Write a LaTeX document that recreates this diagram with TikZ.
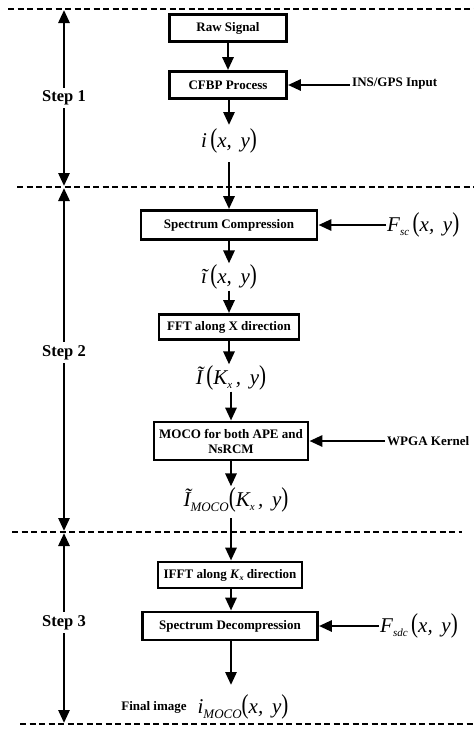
\documentclass[tikz,border=0pt]{standalone}
\usepackage{fontspec}
\setmainfont{Liberation Serif}
\usepackage{graphicx}
\usetikzlibrary{arrows.meta}
\newcommand\lpar{\scalebox{1}[1.3]{\upshape(}}
\newcommand\rpar{\scalebox{1}[1.3]{\upshape)}}
\newcommand\mexp[1]{{\fontsize{21}{25}\selectfont\itshape #1}}
\tikzset{
  x=1pt, y=-1pt,
  procbox/.style={draw, line width=2.8pt, font=\bfseries\fontsize{13}{15}\selectfont, inner sep=2pt, align=center},
  lbl/.style={font=\bfseries\fontsize{13}{15}\selectfont, inner sep=2pt},
  steplbl/.style={font=\bfseries\fontsize{16.5}{19}\selectfont, fill=white, inner sep=3pt},
  mathlbl/.style={inner sep=1pt},
  flow/.style={line width=2.8pt, -{Triangle[length=13pt,width=11pt]}},
  dbl/.style={line width=2.8pt, {Triangle[length=13pt,width=11pt]}-{Triangle[length=13pt,width=11pt]}},
  sep/.style={line width=2.2pt, dash pattern=on 6pt off 3.5pt},
}
\begin{document}
\begin{tikzpicture}
\useasboundingbox (0,0) rectangle (474,729);
% separators
\coordinate (d1a) at (8,9);   \coordinate (d1b) at (474,9);
\coordinate (d2a) at (17,187); \coordinate (d2b) at (474,187);
\coordinate (d3a) at (12,532); \coordinate (d3b) at (462,532);
\coordinate (d4a) at (20,724); \coordinate (d4b) at (474,724);
\draw[sep] (d1a) -- (d1b);
\draw[sep] (d2a) -- (d2b);
\draw[sep] (d3a) -- (d3b);
\draw[sep] (d4a) -- (d4b);
% step arrows
\coordinate (s1t) at (64,10); \coordinate (s1b) at (64,186);
\coordinate (s2t) at (64,188); \coordinate (s2b) at (64,531);
\coordinate (s3t) at (64,533); \coordinate (s3b) at (64,723);
\draw[dbl] (s1t) -- node[steplbl]{Step 1} (s1b);
\draw[dbl] (s2t) -- node[steplbl, pos=0.48]{Step 2} (s2b);
\draw[dbl] (s3t) -- node[steplbl, pos=0.47]{Step 3} (s3b);
% nodes
\node[procbox, minimum width=117pt, minimum height=27pt] (raw) at (228,28) {Raw Signal};
\node[procbox, minimum width=117pt, minimum height=27pt] (cfbp) at (228,85) {CFBP Process};
\node[lbl, anchor=west] (ins) at (350,84) {INS/GPS Input};
\node[mathlbl] (ixy) at (229,141) {\mexp{i\,\lpar x,\, y\rpar}};
\node[procbox, minimum width=176pt, minimum height=29pt] (sc) at (229,225) {Spectrum Compression};
\node[mathlbl, anchor=west] (fsc) at (386,225) {\mexp{F\raisebox{-4pt}{\fontsize{11}{13}\selectfont sc}\,\lpar x,\, y\rpar}};
\node[mathlbl] (it) at (229,277) {\mexp{\~{\i}\,\lpar x,\, y\rpar}};
\node[procbox, minimum width=140pt, minimum height=25pt] (fft) at (229,327) {FFT along X direction};
\node[mathlbl] (Ik) at (231,378) {\mexp{\~{I}\,\lpar K\raisebox{-4pt}{\fontsize{11}{13}\selectfont x}\,,\, y\rpar}};
\node[procbox, minimum width=154pt, minimum height=38pt, inner sep=1pt] (moco) at (231,441) {\baselineskip=16pt MOCO for both APE and\\NsRCM};
\node[lbl, anchor=west] (wpga) at (385,441) {WPGA Kernel};
\node[mathlbl] (Imoco) at (236,500) {\mexp{\~{I}\raisebox{-5pt}{\fontsize{13}{15}\selectfont MOCO}\lpar K\raisebox{-4pt}{\fontsize{11}{13}\selectfont x}\,,\, y\rpar}};
\node[procbox, minimum width=144pt, minimum height=26pt] (ifft) at (230,575) {IFFT along \textit{K}\raisebox{-2pt}{\fontsize{8}{9}\selectfont\itshape x} direction};
\node[procbox, minimum width=175pt, minimum height=28pt] (sd) at (230,626) {Spectrum Decompression};
\node[mathlbl, anchor=west] (fsdc) at (379,626) {\mexp{F\raisebox{-4pt}{\fontsize{11}{13}\selectfont sdc}\,\lpar x,\, y\rpar}};
\node[lbl] (fin) at (154,707) {Final image};
\node[mathlbl] (imo) at (243,707) {\mexp{i\raisebox{-5pt}{\fontsize{13}{15}\selectfont MOCO}\lpar x,\, y\rpar}};
% connectors
\coordinate (e1) at (229,125);
\coordinate (e2) at (229,162);
\coordinate (e3) at (231,518);
\coordinate (e4) at (231,685);
\draw[flow] (raw) -- (cfbp);
\draw[flow] (cfbp.south -| e1) -- (e1);
\draw[flow] (e2) -- (sc.north -| e2);
\draw[flow] (sc.south) -- (it.north);
\draw[flow] (it.south) -- (fft.north);
\draw[flow] (fft.south) -- (Ik.north -| fft.south);
\draw[flow] (Ik.south) -- (moco.north);
\draw[flow] (moco.south) -- (Imoco.north -| moco.south);
\draw[flow] (e3) -- (ifft.north -| e3);
\draw[flow] (ifft.south -| e3) -- (sd.north -| e3);
\draw[flow] (sd.south -| e4) -- (e4);
\draw[flow] (ins.west |- cfbp.east) -- (cfbp.east);
\draw[flow] (fsc.west |- sc.east) -- (sc.east);
\draw[flow] (wpga.west |- moco.east) -- (moco.east);
\draw[flow] (fsdc.west |- sd.east) -- (sd.east);
\end{tikzpicture}
\end{document}
